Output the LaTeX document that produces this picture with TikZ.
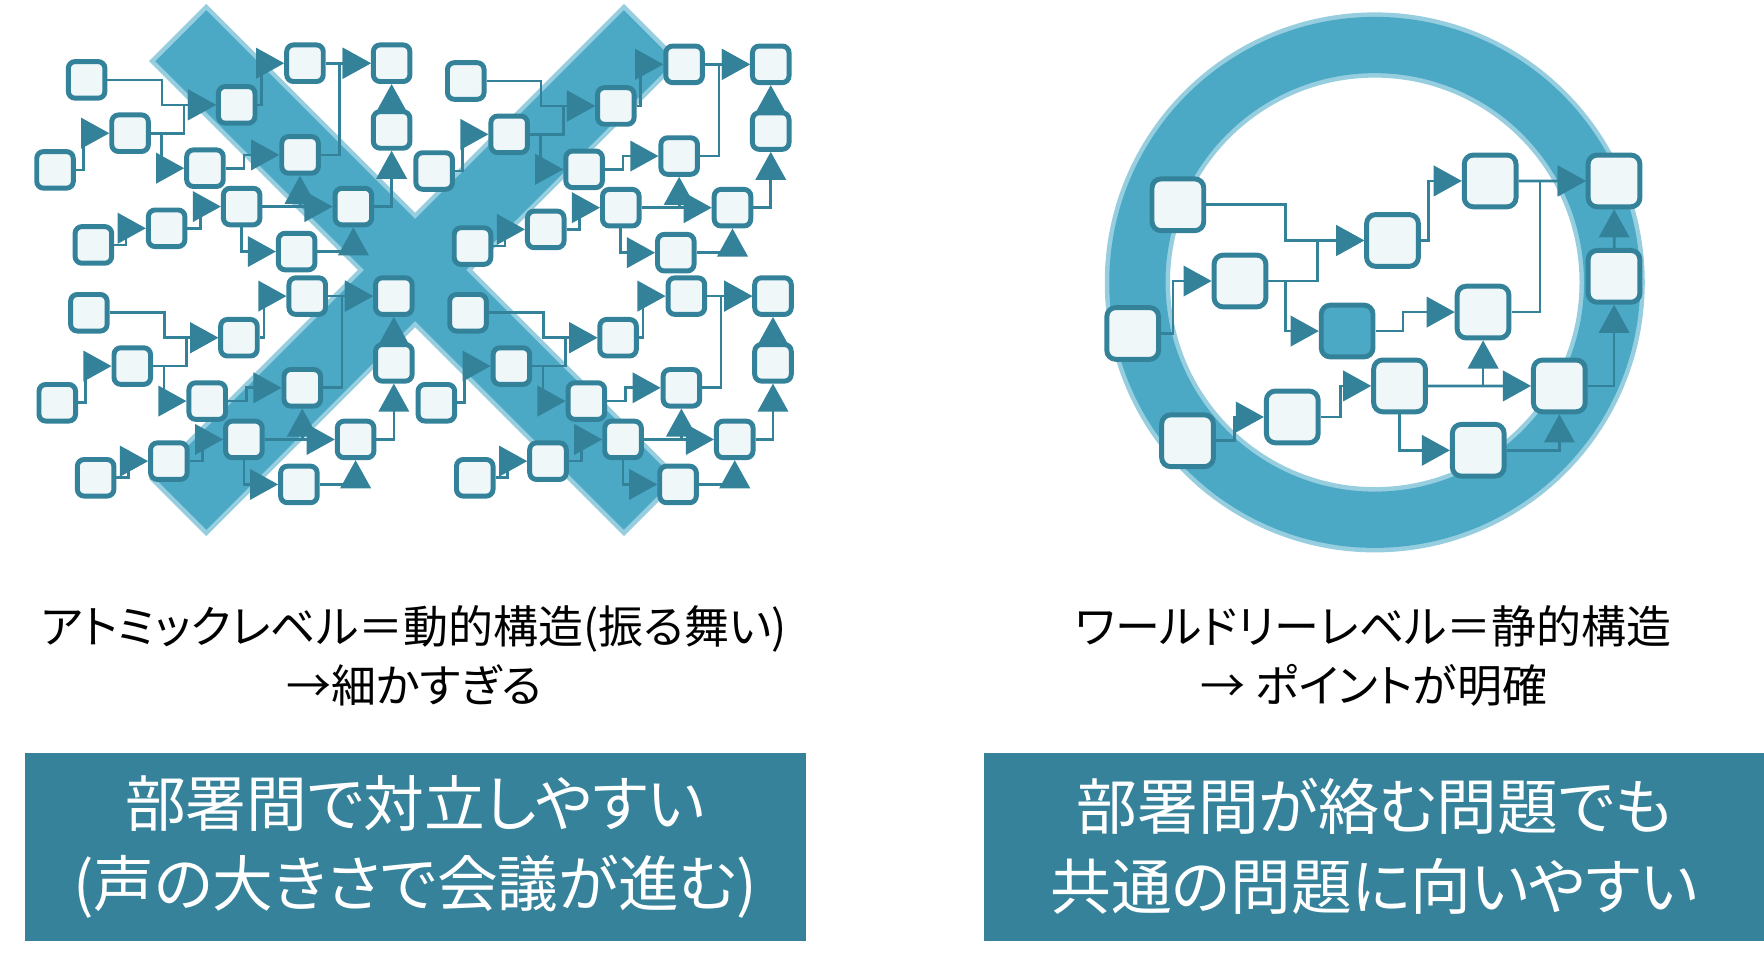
\documentclass[tikz,border=0pt]{standalone}
\usepackage{fontspec}
\newfontfamily\jpfont[RawFeature=+palt]{Noto Sans CJK JP}
\usepackage{tikz}
\usetikzlibrary{arrows.meta}
\usetikzlibrary{calc}

\definecolor{linkteal}{HTML}{33829A}
\definecolor{boxfill}{HTML}{EFF7F9}
\definecolor{barblue}{HTML}{4BA9C6}
\definecolor{barrim}{HTML}{96CEDF}
\definecolor{bannerteal}{HTML}{35829A}

\tikzset{
    net box/.style={
        draw=linkteal,
        fill=boxfill,
        line width=4.4pt,
        rounded corners=6pt,
        minimum size=32.5pt,
        inner sep=0,
    },
    core box/.style={},
    net link/.style={
        draw=linkteal,
        line width=2.4pt,
        -{Triangle[length=25pt,width=27pt]},
    },
    bar rim/.style={
        draw=barrim,
        line width=8pt,
    },
    caption text/.style={
        align=center,
        font=\jpfont\fontsize{40pt}{53pt}\selectfont,
    },
    banner/.style={
        fill=bannerteal,
        text=white,
        inner sep=0,
        align=center,
        minimum height=167pt,
        font=\jpfont\fontsize{54pt}{71pt}\selectfont,
    },
}

\begin{document}
\begin{tikzpicture}[x=1pt, y=-1pt]

    \useasboundingbox (0, 0) rectangle (1568, 855);

    \newcommand\flownet[1]{
        \node[net box] (#1-a) at (0, 0) {};
        \node[net box] (#1-b) at (38.6, 47.4) {};
        \node[net box] (#1-c) at (-28.1, 80) {};
        \node[net box] (#1-d) at (133.4, 22.2) {};
        \node[net box, core box] (#1-e) at (105.2, 78.5) {};
        \node[net box] (#1-f) at (194.1, -14.8) {};
        \node[net box] (#1-g) at (271.1, -14.8) {};
        \node[net box] (#1-h) at (271.1, 44.5) {};
        \node[net box] (#1-i) at (189.7, 66.7) {};
        \node[net box] (#1-j) at (137.8, 112.6) {};
        \node[net box] (#1-k) at (71.1, 131.9) {};
        \node[net box] (#1-l) at (6, 146.7) {};
        \node[net box] (#1-m) at (237.1, 112.6) {};
        \node[net box] (#1-n) at (186.7, 152.6) {};

        \draw[net link] (#1-a.east) -| (67, 11) |- (#1-d.west);
        \draw[net link] (#1-b.east) -| (86.6, 35) |- (#1-d.west);
        \draw[net link] (#1-b.east) -| (66.7, 60) |- (#1-e.west);
        \draw[net link] (#1-c.east) -| (-3, 60) |- (#1-b.west);
        \draw[net link] (#1-d.east) -| (155.6, 5) |- (#1-f.west);
        \draw[net link] (#1-f) -- (#1-g);
        \draw[net link] (#1-i.east) -| (225, 20) |- (#1-g.west);
        \draw[net link] (#1-e.east) -| (139.9, 72) |- (#1-i.west);
        \draw[net link] (#1-j) -- (#1-m);
        \draw[net link] (#1-i |- #1-j) -- (#1-i.south);
        \draw[net link] (#1-k.east) -| (101, 120) |- (#1-j.west);
        \draw[net link] (#1-l.east) -| (35, 140) |- (#1-k.west);
        \draw[net link] (#1-j.south) |- (#1-n.west);
        \draw[net link] (#1-n.east) -| (#1-m.south);
        \draw[net link] (#1-m.east) -| (#1-h.south);
        \draw[net link] (#1-h) -- (#1-g);
    }

    % the cross
    \begin{scope}[shift={(369, 240)}]
        \path[bar rim, rotate=-45] (-294.5, -32) rectangle (294.5, 32);
        \path[bar rim, rotate=45] (-294.5, -32) rectangle (294.5, 32);
        \fill[barblue, rotate=-45] (-294.5, -32) rectangle (294.5, 32);
        \fill[barblue, rotate=45] (-294.5, -32) rectangle (294.5, 32);
    \end{scope}

    % the ring
    \fill[barrim, even odd rule] (1222, 251) circle[radius=240pt] circle[radius=182pt];
    \fill[barblue, even odd rule] (1222, 251) circle[radius=236pt] circle[radius=186pt];

    \foreach \tx/\ty/\nm in {77/71/ul, 414/72/ur, 79/278/ll, 416/278/lr}
    {
        \begin{scope}[shift={(\tx, \ty)}]
            \flownet{\nm}
        \end{scope}
    }

    \begin{scope}[shift={(1047, 182)}, scale=1.43,
        net box/.append style={minimum size=46pt, rounded corners=8pt},
        core box/.style={fill=barblue}]
        \flownet{w}
    \end{scope}

    \node[caption text] (atomic) at (368, 583) {アトミックレベル＝動的構造(振る舞い)\\→細かすぎる};
    \node[caption text] (worldly) at (1221, 583) {ワールドリーレベル＝静的構造\\→ ポイントが明確};

    \node[banner, minimum width=694pt] (clash) at (369, 752.5) {部署間で対立しやすい\\(声の大きさで会議が進む)};
    \node[banner, minimum width=693pt] (common) at (1221.5, 752.5) {部署間が絡む問題でも\\共通の問題に向いやすい};

\end{tikzpicture}
\end{document}
